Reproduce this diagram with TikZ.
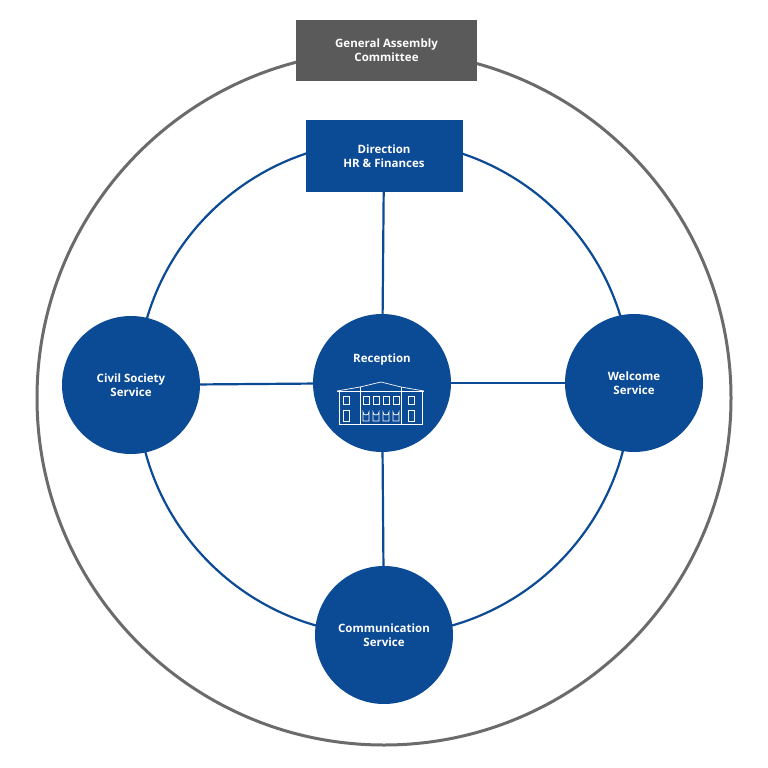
\documentclass[tikz,border=0pt]{standalone}
\usepackage{fontspec}
\setmainfont{Open Sans}
\begin{document}
\begin{tikzpicture}[x=1pt,y=-1pt,
  lbl/.style={font=\bfseries\fontsize{11.5}{14}\selectfont,text=white,align=center},
  circ/.style={circle,fill=blueC,minimum size=138pt,inner sep=0pt},
  ln/.style={draw=blueC,line width=2.2pt},
  ic/.style={draw=white,line width=0.7pt}]
\definecolor{blueC}{HTML}{0B4A94}
\definecolor{greyC}{HTML}{5A5A5A}
\useasboundingbox (0,0) rectangle (768,768);
\draw[line width=3pt,draw=greyC!90] (384,398) circle (347);
\draw[ln] (384,388) circle (247);
\coordinate (dirc) at (384,156);
\node[circ] (rec) at (382,383) {};
\node[circ,lbl] (civ) at (131,385) {Civil Society\\Service};
\node[circ,lbl] (wel) at (634,383) {Welcome\\Service};
\node[circ,lbl] (com) at (384,635) {Communication\\Service};
\node[fill=blueC,minimum width=157pt,minimum height=72pt,lbl] (dir) at (dirc) {Direction\\HR \& Finances};
\node[fill=greyC,minimum width=181pt,minimum height=61pt,lbl] (ga) at (386.5,50.5) {General Assembly\\Committee};
\draw[ln] (dir) -- (rec);
\draw[ln] (civ) -- (rec);
\draw[ln] (rec) -- (wel);
\draw[ln] (rec) -- (com);
\node[lbl] (rlab) at (382,360) {Reception};
% building icon
\draw[ic] (339,392) -- (339,424) -- (422,424) -- (422,392);
\draw[ic] (337,391) -- (360,387) -- (381,382) -- (401,387) -- (424,391);
\draw[ic] (337,391) -- (424,391);
\draw[ic] (360,387) -- (360,424) (401,387) -- (401,424);
\foreach \x in {346,364,375,386,397,409} {}
\foreach \x in {346,411} {\draw[ic] (\x-3,396) rectangle (\x+3,404); \draw[ic] (\x-3,410) rectangle (\x+3,421);}
\foreach \x in {366,376,386,396} {\draw[ic] (\x-3,396) rectangle (\x+3,404); \draw[ic] (\x-3,421) -- (\x-3,412) arc (180:0:3) -- (\x+3,421) -- cycle;}
\end{tikzpicture}
\end{document}
